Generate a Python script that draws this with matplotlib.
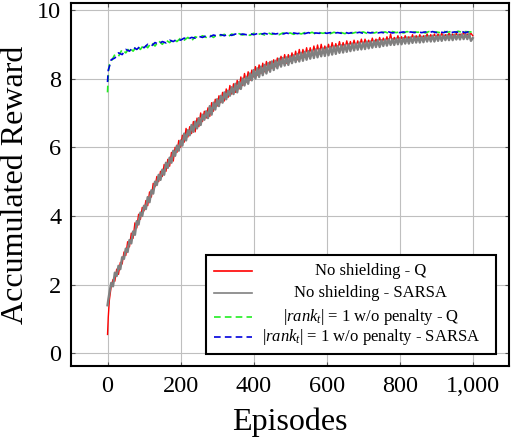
import matplotlib
matplotlib.use('Agg')
import matplotlib.pyplot as plt
from matplotlib.ticker import FuncFormatter, MultipleLocator
from matplotlib.patches import Rectangle
from matplotlib.lines import Line2D

plt.rcParams['font.family'] = ['Liberation Serif', 'DejaVu Serif']
plt.rcParams['mathtext.fontset'] = 'custom'
plt.rcParams['mathtext.rm'] = 'Liberation Serif'
plt.rcParams['mathtext.it'] = 'Liberation Serif:italic'

# episodes for the unshielded runs (every 5) and the ranked runs (every 10)
episodes = [0, 2] + list(range(5, 1001, 5))
episodes_rank = [0, 2, 5] + list(range(10, 1001, 10))

# No shielding - Q
reward_q = [
    0.55, 1.05,
    1.55, 1.95, 2.15, 2.10, 2.45, 2.30, 2.65, 2.60, 2.95,
    2.85, 3.25, 3.10, 3.50, 3.35, 3.80, 3.65, 4.05, 3.90, 4.25,
    4.15, 4.45, 4.30, 4.70, 4.55, 4.95, 4.85, 5.15, 5.00, 5.30,
    5.15, 5.50, 5.30, 5.65, 5.45, 5.85, 5.60, 6.00, 5.85, 6.20,
    6.00, 6.35, 6.15, 6.55, 6.30, 6.60, 6.40, 6.75, 6.45, 6.85,
    6.60, 7.00, 6.75, 7.05, 6.85, 7.15, 6.90, 7.30, 7.05, 7.40,
    7.20, 7.50, 7.30, 7.60, 7.35, 7.70, 7.45, 7.80, 7.55, 7.85,
    7.60, 7.95, 7.70, 8.05, 7.80, 8.15, 7.90, 8.20, 7.95, 8.25,
    8.05, 8.35, 8.10, 8.40, 8.15, 8.45, 8.20, 8.50, 8.25, 8.50,
    8.30, 8.55, 8.35, 8.60, 8.40, 8.65, 8.45, 8.70, 8.45, 8.70,
    8.50, 8.75, 8.55, 8.80, 8.55, 8.85, 8.60, 8.85, 8.62, 8.90,
    8.65, 8.90, 8.68, 8.95, 8.70, 8.98, 8.72, 9.00, 8.75, 8.95,
    8.78, 9.00, 8.80, 9.05, 8.82, 9.02, 8.85, 9.08, 8.85, 9.05,
    8.88, 9.10, 8.90, 9.08, 8.92, 9.12, 8.92, 9.10, 8.95, 9.15,
    8.95, 9.15, 8.98, 9.12, 9.00, 9.18, 9.00, 9.15, 9.02, 9.20,
    9.02, 9.18, 9.05, 9.22, 9.05, 9.30, 9.05, 9.20, 9.08, 9.25,
    9.08, 9.22, 9.10, 9.25, 9.10, 9.22, 9.12, 9.28, 9.12, 9.25,
    9.12, 9.28, 9.15, 9.25, 9.15, 9.30, 9.15, 9.28, 9.18, 9.30,
    9.18, 9.30, 9.18, 9.32, 9.20, 9.28, 9.20, 9.32, 9.20, 9.30,
    9.22, 9.32, 9.22, 9.30, 9.22, 9.35, 9.22, 9.30, 9.24, 9.32,
    9.25,
]

# No shielding - SARSA
reward_sarsa = [
    1.40, 1.55,
    1.75, 2.05, 1.95, 2.35, 2.25, 2.55, 2.45, 2.80, 2.75,
    3.05, 2.95, 3.30, 3.20, 3.55, 3.45, 3.85, 3.75, 4.10, 4.00,
    4.30, 4.20, 4.55, 4.40, 4.75, 4.65, 5.00, 4.90, 5.20, 5.05,
    5.35, 5.20, 5.55, 5.40, 5.70, 5.55, 5.90, 5.75, 6.05, 5.90,
    6.20, 6.05, 6.40, 6.20, 6.50, 6.35, 6.65, 6.45, 6.75, 6.55,
    6.85, 6.65, 6.95, 6.80, 7.05, 6.85, 7.20, 6.95, 7.30, 7.10,
    7.40, 7.20, 7.50, 7.30, 7.60, 7.40, 7.65, 7.50, 7.75, 7.55,
    7.85, 7.60, 7.90, 7.70, 8.00, 7.80, 8.05, 7.85, 8.15, 7.95,
    8.25, 8.00, 8.30, 8.05, 8.35, 8.10, 8.40, 8.15, 8.45, 8.20,
    8.50, 8.25, 8.52, 8.30, 8.58, 8.35, 8.60, 8.38, 8.62, 8.40,
    8.65, 8.45, 8.68, 8.48, 8.72, 8.50, 8.75, 8.52, 8.78, 8.55,
    8.80, 8.58, 8.82, 8.60, 8.85, 8.62, 8.86, 8.65, 8.88, 8.66,
    8.90, 8.68, 8.92, 8.70, 8.94, 8.72, 8.95, 8.75, 8.97, 8.76,
    8.98, 8.78, 9.00, 8.80, 9.02, 8.82, 9.02, 8.84, 9.05, 8.85,
    9.05, 8.86, 9.08, 8.88, 9.08, 8.90, 9.10, 8.92, 9.12, 8.92,
    9.12, 8.95, 9.14, 8.96, 9.15, 8.98, 9.15, 8.98, 9.17, 9.00,
    9.18, 9.00, 9.18, 9.02, 9.20, 9.02, 9.20, 9.04, 9.22, 9.05,
    9.22, 9.05, 9.22, 9.06, 9.24, 9.08, 9.24, 9.08, 9.25, 9.08,
    9.25, 9.10, 9.26, 9.10, 9.26, 9.12, 9.27, 9.12, 9.28, 9.12,
    9.28, 9.14, 9.28, 9.14, 9.29, 9.15, 9.30, 9.15, 9.30, 9.10,
    9.18,
]

# |rank_t| = 1 w/o penalty - Q
reward_rank_q = [
    7.60, 8.10, 8.40,
    8.50, 8.70, 8.65, 8.85, 8.75, 8.90, 8.80, 8.95, 8.85, 9.00,
    8.90, 9.05, 8.95, 9.10, 9.00, 9.12, 9.05, 9.15, 9.08, 9.18,
    9.12, 9.20, 9.10, 9.22, 9.18, 9.25, 9.20, 9.27, 9.20, 9.28,
    9.25, 9.29, 9.22, 9.30, 9.26, 9.31, 9.27, 9.30, 9.26, 9.32,
    9.28, 9.31, 9.27, 9.33, 9.29, 9.32, 9.28, 9.33, 9.30, 9.33,
    9.29, 9.34, 9.30, 9.34, 9.31, 9.35, 9.30, 9.34, 9.32, 9.35,
    9.31, 9.35, 9.32, 9.34, 9.31, 9.36, 9.32, 9.35, 9.33, 9.36,
    9.32, 9.35, 9.33, 9.36, 9.34, 9.36, 9.32, 9.37, 9.34, 9.36,
    9.33, 9.37, 9.34, 9.36, 9.35, 9.37, 9.33, 9.37, 9.35, 9.36,
    9.34, 9.38, 9.35, 9.37, 9.34, 9.38, 9.35, 9.37, 9.36, 9.36,
]

# |rank_t| = 1 w/o penalty - SARSA
reward_rank_sarsa = [
    7.90, 8.25, 8.35,
    8.55, 8.60, 8.75, 8.70, 8.85, 8.80, 8.92, 8.85, 8.95, 8.90,
    9.00, 8.95, 9.05, 9.00, 9.08, 9.04, 9.12, 9.08, 9.15, 9.12,
    9.18, 9.15, 9.20, 9.18, 9.23, 9.20, 9.25, 9.22, 9.27, 9.24,
    9.28, 9.25, 9.29, 9.26, 9.30, 9.27, 9.30, 9.28, 9.31, 9.28,
    9.31, 9.29, 9.32, 9.29, 9.32, 9.30, 9.32, 9.30, 9.33, 9.30,
    9.33, 9.31, 9.33, 9.31, 9.34, 9.31, 9.33, 9.32, 9.34, 9.32,
    9.34, 9.32, 9.34, 9.32, 9.35, 9.32, 9.34, 9.33, 9.35, 9.32,
    9.35, 9.33, 9.35, 9.33, 9.35, 9.33, 9.36, 9.33, 9.35, 9.34,
    9.36, 9.33, 9.36, 9.34, 9.36, 9.34, 9.36, 9.34, 9.37, 9.34,
    9.36, 9.34, 9.37, 9.34, 9.36, 9.35, 9.37, 9.34, 9.37, 9.35,
]

labels = ['No shielding - Q', 'No shielding - SARSA',
          r'$|rank_t|$ = 1 w/o penalty - Q', r'$|rank_t|$ = 1 w/o penalty - SARSA']
colors = ['#ff0000', '#808080', '#22ee22', '#0000dd']
styles = [dict(lw=1.0), dict(lw=1.7),
          dict(lw=1.2, dashes=(4, 2.5)), dict(lw=1.2, dashes=(4, 2.5))]

fig = plt.figure(figsize=(5.12, 4.41), dpi=100)
ax = fig.add_axes([0.1387, 0.170, 0.856, 0.823])

ax.plot(episodes, reward_q, color=colors[0], **styles[0])
ax.plot(episodes, reward_sarsa, color=colors[1], **styles[1])
ax.plot(episodes_rank, reward_rank_q, color=colors[2], **styles[2])
ax.plot(episodes_rank, reward_rank_sarsa, color=colors[3], **styles[3])

ax.set_xlim(-100, 1100)
ax.set_ylim(-0.37, 10.2)
ax.xaxis.set_major_locator(MultipleLocator(200))
ax.yaxis.set_major_locator(MultipleLocator(2))
ax.xaxis.set_major_formatter(FuncFormatter(lambda v, p: f'{v:,.0f}'))
ax.grid(True, color='#bfbfbf', lw=0.8)
ax.set_axisbelow(True)
ax.tick_params(direction='in', length=3, width=0.8, color='#555555',
               labelsize=17.5, top=True, right=True, pad=7)
for s in ax.spines.values():
    s.set_linewidth(1.5)

ax.set_xlabel('Episodes', fontsize=23, labelpad=8)
ax.set_ylabel('Accumulated Reward', fontsize=23)
ax.yaxis.set_label_coords(-0.094, 0.5)

# legend box like the pgfplots one: handles on the left, text centred
box = Rectangle((0.307, 0.033), 0.662, 0.273, transform=ax.transAxes,
                facecolor='white', edgecolor='black', lw=1.5, zorder=5)
ax.add_patch(box)
rows = [0.2625, 0.2003, 0.1358, 0.079]
handle_styles = [dict(lw=1.2), dict(lw=1.2),
                 dict(lw=1.2, dashes=(4, 2.5)), dict(lw=1.2, dashes=(4, 2.5))]
for yy, lab, c, st in zip(rows, labels, colors, handle_styles):
    ax.add_line(Line2D([0.326, 0.414], [yy, yy], transform=ax.transAxes,
                       color=c, zorder=6, **st))
    ax.text(0.684, yy, lab, transform=ax.transAxes, ha='center', va='center',
            fontsize=12, zorder=6)

fig.savefig('out.png', dpi=100)
